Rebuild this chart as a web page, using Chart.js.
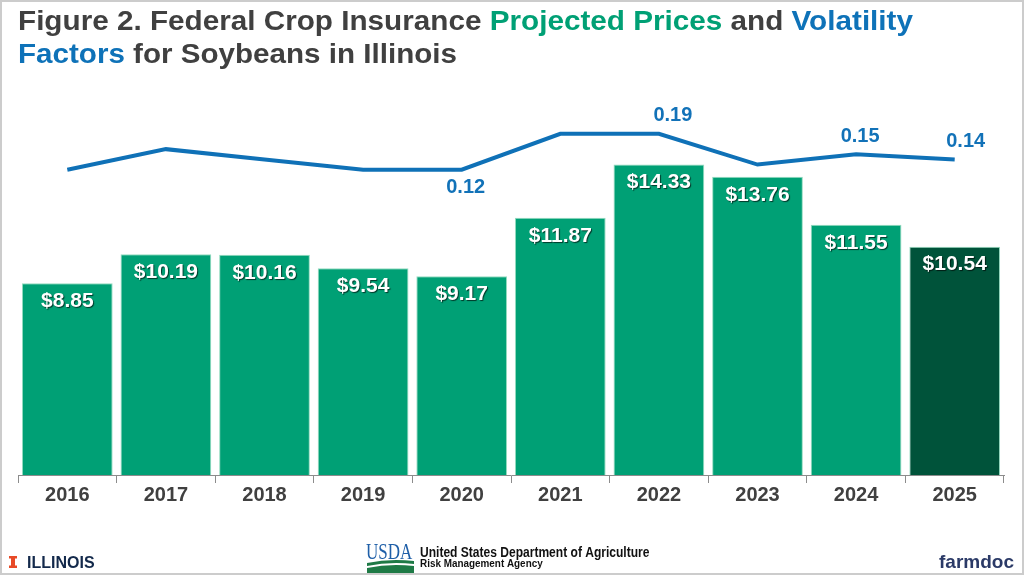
<!DOCTYPE html>
<html>
<head>
<meta charset="utf-8">
<script src="https://cdn.jsdelivr.net/npm/chart.js@4.4.1/dist/chart.umd.min.js"></script>
<style>
  html, body { margin: 0; padding: 0; background: #fff; }
  #wrap { width: 1024px; height: 576px; position: relative; }
</style>
</head>
<body>
<div id="wrap"><canvas id="chart" width="1024" height="576"></canvas></div>
<script>
// datos
const years = ['2016', '2017', '2018', '2019', '2020', '2021', '2022', '2023', '2024', '2025'];
const prices = [8.85, 10.19, 10.16, 9.54, 9.17, 11.87, 14.33, 13.76, 11.55, 10.54];
const volatility = [0.12, 0.16, 0.14, 0.12, 0.12, 0.19, 0.19, 0.13, 0.15, 0.14];
const volLabelYears = ['2020', '2022', '2024', '2025'];

const FONT = '"Liberation Sans", Arial, sans-serif';
const GREEN = '#00A075';
const DARK_GREEN = '#00533A';
const BLUE = '#0F71B7';
const GRAY_TXT = '#404040';

const barColors = years.map(y => y === '2025' ? DARK_GREEN : GREEN);

// titulo, etiquetas y pie de pagina
const decorPlugin = {
  id: 'decor',
  afterDatasetsDraw(chart) {
    const ctx = chart.ctx;
    // etiquetas de barras
    const barMeta = chart.getDatasetMeta(1);
    ctx.save();
    ctx.font = 'bold 21px ' + FONT;
    ctx.textAlign = 'center';
    ctx.textBaseline = 'middle';
    ctx.fillStyle = '#fff';
    ctx.shadowColor = 'rgba(0,0,0,0.65)';
    ctx.shadowOffsetX = 1;
    ctx.shadowOffsetY = 1;
    ctx.shadowBlur = 1;
    barMeta.data.forEach((bar, i) => {
      ctx.fillText('$' + prices[i].toFixed(2), bar.x, bar.y + 18);
    });
    ctx.restore();

    // etiquetas de la linea
    const lineMeta = chart.getDatasetMeta(0);
    ctx.save();
    ctx.font = 'bold 20px ' + FONT;
    ctx.textAlign = 'center';
    ctx.textBaseline = 'middle';
    ctx.fillStyle = '#1272B8';
    lineMeta.data.forEach((pt, i) => {
      if (!volLabelYears.includes(years[i])) return;
      let dx = 4, dy = -18;
      if (years[i] === '2020') dy = 18;
      if (years[i] === '2022') dx = 14;
      if (years[i] === '2025') dx = 11;
      ctx.fillText(volatility[i].toFixed(2), pt.x + dx, pt.y + dy);
    });
    ctx.restore();
  },
  afterDraw(chart) {
    const ctx = chart.ctx;
    ctx.save();

    // titulo en dos lineas con colores
    const drawRich = (parts, x, y, targetW) => {
      ctx.font = 'bold 28px ' + FONT;
      let total = 0;
      parts.forEach(p => total += ctx.measureText(p[0]).width);
      const sx = targetW / total;
      ctx.save();
      ctx.translate(x, y);
      ctx.scale(sx, 1);
      let cx = 0;
      parts.forEach(p => {
        ctx.fillStyle = p[1];
        ctx.fillText(p[0], cx, 0);
        cx += ctx.measureText(p[0]).width;
      });
      ctx.restore();
    };
    ctx.textBaseline = 'alphabetic';
    ctx.textAlign = 'left';
    drawRich([
      ['Figure 2. Federal Crop Insurance ', GRAY_TXT],
      ['Projected Prices', GREEN],
      [' and ', GRAY_TXT],
      ['Volatility', '#0E72B8']
    ], 18, 30, 895);
    drawRich([
      ['Factors', '#0E72B8'],
      [' for Soybeans in Illinois', GRAY_TXT]
    ], 18, 63, 439);

    // logo Illinois
    ctx.fillStyle = '#E84A27';
    ctx.fillRect(9, 556, 8, 2.5);
    ctx.fillRect(9, 565.5, 8, 2.5);
    ctx.fillRect(11, 556, 4, 12);
    ctx.fillStyle = '#13294B';
    ctx.font = 'bold 16px ' + FONT;
    ctx.fillText('ILLINOIS', 27, 568);

    // logo USDA
    ctx.save();
    ctx.translate(366, 559);
    ctx.scale(0.74, 1);
    ctx.font = '23px "Liberation Serif", "Times New Roman", serif';
    ctx.fillStyle = '#1F5FA8';
    ctx.fillText('USDA', 0, 0);
    ctx.restore();
    ctx.fillStyle = '#1E7A46';
    ctx.beginPath();
    ctx.moveTo(367, 563);
    ctx.quadraticCurveTo(390, 558, 414, 561);
    ctx.lineTo(414, 564);
    ctx.quadraticCurveTo(390, 561, 367, 566);
    ctx.closePath();
    ctx.fill();
    ctx.beginPath();
    ctx.moveTo(367, 568);
    ctx.quadraticCurveTo(390, 563, 414, 566);
    ctx.lineTo(414, 573);
    ctx.lineTo(367, 573);
    ctx.closePath();
    ctx.fill();

    ctx.fillStyle = '#111';
    ctx.save();
    ctx.translate(420, 557);
    ctx.scale(0.86, 1);
    ctx.font = 'bold 14px ' + FONT;
    ctx.fillText('United States Department of Agriculture', 0, 0);
    ctx.restore();
    ctx.save();
    ctx.translate(420, 567);
    ctx.scale(0.9, 1);
    ctx.font = 'bold 11px ' + FONT;
    ctx.fillText('Risk Management Agency', 0, 0);
    ctx.restore();

    // farmdoc
    ctx.fillStyle = '#2B3A67';
    ctx.font = 'bold 19px ' + FONT;
    ctx.textAlign = 'right';
    ctx.fillText('farmdoc', 1014, 568);

    // marco gris
    ctx.strokeStyle = '#cccccc';
    ctx.lineWidth = 2;
    ctx.strokeRect(1, 1, 1022, 573);
    ctx.restore();
  }
};

const ctx = document.getElementById('chart').getContext('2d');

new Chart(ctx, {
  data: {
    labels: years,
    datasets: [
      {
        type: 'line',
        label: 'Volatility Factor',
        data: volatility,
        yAxisID: 'y2',
        borderColor: BLUE,
        borderWidth: 4,
        pointRadius: 0,
        tension: 0,
        fill: false,
        order: 0
      },
      {
        type: 'bar',
        label: 'Projected Price',
        data: prices,
        yAxisID: 'y',
        backgroundColor: barColors,
        borderColor: 'rgba(120,210,175,0.8)',
        borderWidth: 1,
        barPercentage: 0.92,
        categoryPercentage: 1,
        order: 1
      }
    ]
  },
  options: {
    responsive: false,
    animation: false,
    devicePixelRatio: 1,
    layout: {
      padding: { top: 85, left: 18, right: 20, bottom: 61 }
    },
    plugins: {
      legend: { display: false },
      tooltip: { enabled: false }
    },
    scales: {
      x: {
        afterFit(scale) { scale.height = 40; },
        grid: {
          display: true,
          offset: true,
          drawOnChartArea: false,
          drawTicks: true,
          tickLength: 8,
          color: '#8c8c8c'
        },
        border: { display: true, color: '#8c8c8c', width: 1 },
        ticks: {
          color: GRAY_TXT,
          padding: 0,
          font: { family: FONT, size: 20, weight: 'bold' }
        }
      },
      y: {
        display: false,
        min: 0,
        max: 18
      },
      y2: {
        display: false,
        min: -0.475,
        max: 0.285
      }
    }
  },
  plugins: [decorPlugin]
});
</script>
</body>
</html>
